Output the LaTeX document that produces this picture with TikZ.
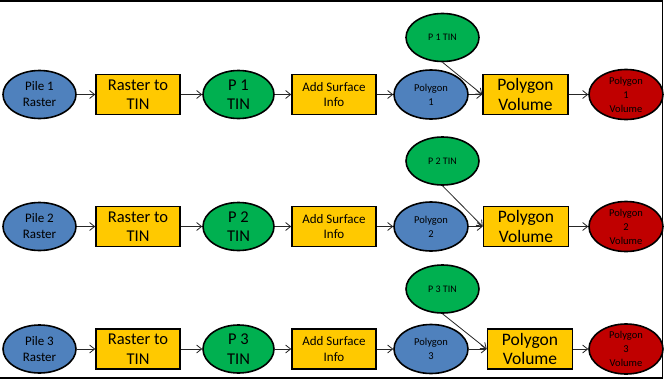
\documentclass[tikz,border=0pt]{standalone}
\usepackage{fontspec}
\setmainfont{Carlito}
\usetikzlibrary{shapes.geometric,arrows.meta}
\definecolor{cblue}{HTML}{4F81BD}
\definecolor{cgreen}{HTML}{00B050}
\definecolor{cgold}{HTML}{FFC900}
\definecolor{cred}{HTML}{C00000}
\tikzset{
  shp/.style={draw=black,line width=1.6pt,inner sep=0pt,align=center,text=black},
  ell/.style={shp,ellipse},
  boxx/.style={shp,rectangle,fill=cgold},
  blueell/.style={ell,fill=cblue,minimum width=73pt,minimum height=48pt},
  greenell/.style={ell,fill=cgreen,minimum width=71pt,minimum height=48pt},
  topell/.style={ell,fill=cgreen,minimum width=73pt,minimum height=48pt,font=\fontsize{10}{12}\selectfont},
  redell/.style={ell,fill=cred,minimum width=74pt,minimum height=50pt,font=\fontsize{10.5}{14}\selectfont},
  bigbox/.style={boxx,minimum width=84pt,minimum height=40pt,font=\fontsize{16.5}{19.5}\selectfont},
  smallbox/.style={boxx,minimum width=84pt,minimum height=40pt,font=\fontsize{13}{15.5}\selectfont},
  arr/.style={draw=black!85,line width=0.8pt,-{Straight Barb[length=5pt,width=8pt]}}
}
\begin{document}
\begin{tikzpicture}[x=1pt,y=-1pt]
\useasboundingbox (0,0) rectangle (664,380);
\fill[white] (0,0) rectangle (664,380);
\draw[line width=1.5pt] (0,1) -- (662.5,1) -- (662.5,378) -- (0,378);
\foreach \r/\y/\ty/\vx in {1/94.5/37.5/525.5, 2/226.5/161/526, 3/349/289/530} {
  \node[blueell,font=\fontsize{13}{16}\selectfont] (pile\r) at (39.5,\y) {Pile \r\\Raster};
  \node[bigbox] (rt\r) at (138,\y) {Raster to\\TIN};
  \node[greenell,font=\fontsize{16.5}{19.5}\selectfont] (ptin\r) at (238.5,\y) {P \r\\TIN};
  \node[smallbox] (add\r) at (334,\y) {Add Surface\\Info};
  \node[blueell,minimum width=74pt,minimum height=49pt,font=\fontsize{10.5}{14}\selectfont] (poly\r) at (431,\y) {Polygon\\\r};
  \node[bigbox,minimum width=85pt,font=\fontsize{17.5}{19.5}\selectfont] (vol\r) at (\vx,\y) {Polygon\\Volume};
  \node[redell] (pvol\r) at (626,\y) {Polygon\\\r\\Volume};
  \node[topell] (top\r) at (442.5,\ty) {P \r{} TIN};
  \draw[arr] (pile\r) -- (rt\r);
  \draw[arr] (rt\r) -- (ptin\r);
  \draw[arr] (ptin\r) -- (add\r);
  \draw[arr] (add\r) -- (poly\r);
  \draw[arr] (poly\r) -- (vol\r.west);
  \draw[arr] (top\r.south) -- (vol\r.west);
  \draw[arr] (vol\r) -- (pvol\r);
}
\end{tikzpicture}
\end{document}
